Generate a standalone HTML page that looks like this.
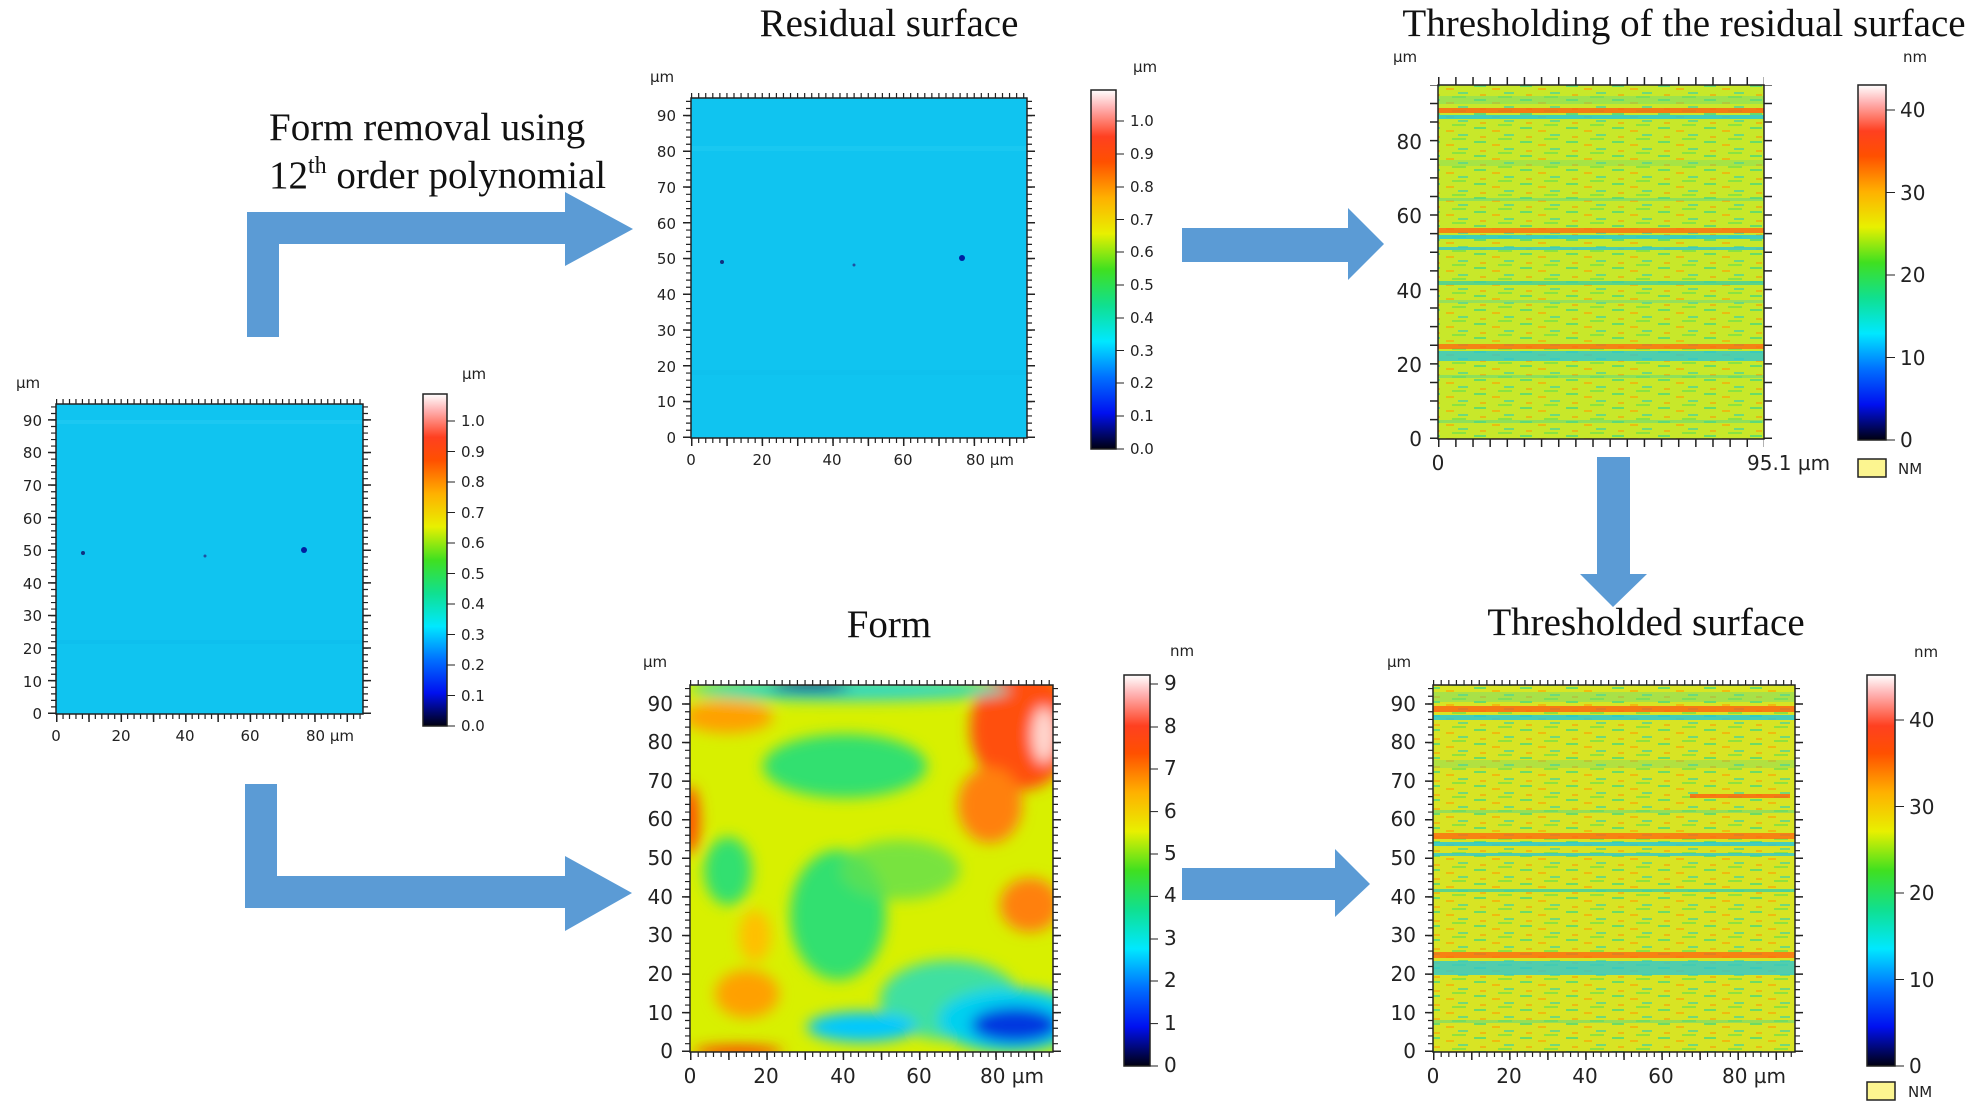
<!DOCTYPE html>
<html><head><meta charset="utf-8"><style>
html,body{margin:0;padding:0;background:#fff;}
svg{display:block}
.t{font-family:"DejaVu Sans","Liberation Sans",sans-serif;font-size:15px;fill:#222}
.tb{font-family:"DejaVu Sans","Liberation Sans",sans-serif;font-size:20px;fill:#222}
.ti{font-family:"Liberation Serif",serif;font-size:39px;fill:#111}
</style></head><body>
<svg width="1978" height="1114" viewBox="0 0 1978 1114" xmlns="http://www.w3.org/2000/svg">
<defs>
<linearGradient id="jet" x1="0" y1="1" x2="0" y2="0">
<stop offset="0" stop-color="#000010"/><stop offset="0.1" stop-color="#0010f0"/><stop offset="0.2" stop-color="#0070ff"/>
<stop offset="0.3" stop-color="#00e8ff"/><stop offset="0.4" stop-color="#10e090"/><stop offset="0.5" stop-color="#40e020"/>
<stop offset="0.6" stop-color="#e8f000"/><stop offset="0.7" stop-color="#ffb000"/><stop offset="0.8" stop-color="#ff5000"/>
<stop offset="0.87" stop-color="#ff4020"/><stop offset="0.95" stop-color="#ffb0b0"/><stop offset="1" stop-color="#ffffff"/>
</linearGradient>
<pattern id="noise" width="46" height="14" patternUnits="userSpaceOnUse">
<rect x="2" y="1" width="12" height="2" fill="#40d880" opacity="0.7"/>
<rect x="20" y="4" width="8" height="2" fill="#ffa000" opacity="0.6"/>
<rect x="32" y="8" width="10" height="2" fill="#30d0b0" opacity="0.6"/>
<rect x="8" y="10" width="6" height="2" fill="#ff9000" opacity="0.5"/>
<rect x="26" y="12" width="14" height="2" fill="#60e050" opacity="0.6"/>
</pattern>
<clipPath id="c4"><rect x="690" y="685" width="363" height="367"/></clipPath>
<filter id="bl" x="-20%" y="-20%" width="140%" height="140%"><feGaussianBlur stdDeviation="7"/></filter>
</defs>

<!-- arrows -->
<g fill="#5b9bd5">
<polygon points="247,337 247,212 565,212 565,192 633,229 565,266 565,244 279,244 279,337"/>
<polygon points="245,784 277,784 277,876 565,876 565,856 632,893 565,931 565,908 245,908"/>
<polygon points="1182,228 1348,228 1348,208 1384,244 1348,280 1348,262 1182,262"/>
<polygon points="1182,868 1335,868 1335,849 1370,884 1335,917 1335,900 1182,900"/>
<polygon points="1597,457 1630,457 1630,574 1647,574 1613,607 1580,574 1597,574"/>
</g>

<!-- titles -->
<text class="ti" x="269" y="140">Form removal using</text>
<text class="ti" x="269" y="188">12<tspan font-size="24" dy="-15">th</tspan><tspan dy="15"> order polynomial</tspan></text>
<text class="ti" x="889" y="36" text-anchor="middle">Residual surface</text>
<text class="ti" x="1684" y="36" text-anchor="middle">Thresholding of the residual surface</text>
<text class="ti" x="889" y="637" text-anchor="middle">Form</text>
<text class="ti" x="1646" y="635" text-anchor="middle">Thresholded surface</text>

<!-- ===== P1 left ===== -->
<rect x="56" y="404" width="307" height="310" fill="#10c4f0"/>
<rect x="56" y="420" width="307" height="4" fill="#30d0f4" opacity="0.4"/>
<rect x="56" y="640" width="307" height="4" fill="#0cb8ec" opacity="0.4"/>
<circle cx="83" cy="553" r="2" fill="#103080"/><circle cx="304" cy="550" r="3" fill="#0020a0"/><circle cx="205" cy="556" r="1.5" fill="#2050a0"/>
<g stroke="#222" fill="none">
<rect x="56" y="404" width="307" height="310" stroke-width="1.5"/>
<line x1="56" y1="716.5" x2="363" y2="716.5" stroke-width="5" stroke-dasharray="1.2 5.256"/>
<line x1="56" y1="401.5" x2="363" y2="401.5" stroke-width="5" stroke-dasharray="1.2 5.256"/>
<line x1="56" y1="718" x2="363" y2="718" stroke-width="8" stroke-dasharray="1.5 30.78"/>
<line x1="53.5" y1="714" x2="53.5" y2="404" stroke-width="5" stroke-dasharray="1.2 5.32"/>
<line x1="365.5" y1="714" x2="365.5" y2="404" stroke-width="5" stroke-dasharray="1.2 5.32"/>
<line x1="52" y1="714" x2="52" y2="404" stroke-width="8" stroke-dasharray="1.5 31.1"/>
<line x1="367" y1="714" x2="367" y2="404" stroke-width="8" stroke-dasharray="1.5 31.1"/>
</g>
<g class="t" text-anchor="end">
<text x="42" y="719">0</text><text x="42" y="687">10</text><text x="42" y="654">20</text><text x="42" y="621">30</text><text x="42" y="589">40</text>
<text x="42" y="556">50</text><text x="42" y="524">60</text><text x="42" y="491">70</text><text x="42" y="458">80</text><text x="42" y="426">90</text>
</g>
<g class="t" text-anchor="middle">
<text x="56" y="741">0</text><text x="121" y="741">20</text><text x="185" y="741">40</text><text x="250" y="741">60</text><text x="330" y="741">80 µm</text>
</g>
<text class="t" x="16" y="388" font-size="13">µm</text>
<rect x="423" y="394" width="24" height="332" fill="url(#jet)" stroke="#222" stroke-width="1.5"/>
<text class="t" x="462" y="379" font-size="13">µm</text>
<g stroke="#222"><line x1="447" y1="726" x2="447" y2="394"/>
<line x1="447" y1="726" x2="455" y2="726" /><line x1="447" y1="695.5" x2="455" y2="695.5"/><line x1="447" y1="665" x2="455" y2="665"/><line x1="447" y1="634.5" x2="455" y2="634.5"/><line x1="447" y1="604" x2="455" y2="604"/><line x1="447" y1="573.5" x2="455" y2="573.5"/><line x1="447" y1="543" x2="455" y2="543"/><line x1="447" y1="512.5" x2="455" y2="512.5"/><line x1="447" y1="482" x2="455" y2="482"/><line x1="447" y1="451.5" x2="455" y2="451.5"/><line x1="447" y1="421" x2="455" y2="421"/></g>
<g class="t"><text x="461" y="731">0.0</text><text x="461" y="701">0.1</text><text x="461" y="670">0.2</text><text x="461" y="640">0.3</text><text x="461" y="609">0.4</text><text x="461" y="579">0.5</text><text x="461" y="548">0.6</text><text x="461" y="518">0.7</text><text x="461" y="487">0.8</text><text x="461" y="457">0.9</text><text x="461" y="426">1.0</text></g>

<!-- ===== P2 residual ===== -->
<rect x="691" y="98" width="336" height="340" fill="#10c4f0"/>
<rect x="691" y="146" width="336" height="5" fill="#30d0f4" opacity="0.3"/>
<rect x="691" y="370" width="336" height="5" fill="#0cb8ec" opacity="0.3"/>
<circle cx="722" cy="262" r="2" fill="#103080"/><circle cx="962" cy="258" r="3" fill="#0020a0"/><circle cx="854" cy="265" r="1.5" fill="#2050a0"/>
<g stroke="#222" fill="none">
<rect x="691" y="98" width="336" height="340" stroke-width="1.5"/>
<line x1="691" y1="440.5" x2="1027" y2="440.5" stroke-width="5" stroke-dasharray="1.2 5.866"/>
<line x1="691" y1="95.5" x2="1027" y2="95.5" stroke-width="5" stroke-dasharray="1.2 5.866"/>
<line x1="691" y1="442" x2="1027" y2="442" stroke-width="8" stroke-dasharray="1.5 33.83"/>
<line x1="688.5" y1="438" x2="688.5" y2="98" stroke-width="5" stroke-dasharray="1.2 5.95"/>
<line x1="1029.5" y1="438" x2="1029.5" y2="98" stroke-width="5" stroke-dasharray="1.2 5.95"/>
<line x1="687" y1="438" x2="687" y2="98" stroke-width="8" stroke-dasharray="1.5 34.25"/>
<line x1="1031" y1="438" x2="1031" y2="98" stroke-width="8" stroke-dasharray="1.5 34.25"/>
</g>
<g class="t" text-anchor="end">
<text x="676" y="443">0</text><text x="676" y="407">10</text><text x="676" y="372">20</text><text x="676" y="336">30</text><text x="676" y="300">40</text>
<text x="676" y="264">50</text><text x="676" y="229">60</text><text x="676" y="193">70</text><text x="676" y="157">80</text><text x="676" y="121">90</text>
</g>
<g class="t" text-anchor="middle">
<text x="691" y="465">0</text><text x="762" y="465">20</text><text x="832" y="465">40</text><text x="903" y="465">60</text><text x="990" y="465">80 µm</text>
</g>
<text class="t" x="650" y="82" font-size="13">µm</text>
<rect x="1091" y="90" width="25" height="359" fill="url(#jet)" stroke="#222" stroke-width="1.5"/>
<text class="t" x="1133" y="72" font-size="13">µm</text>
<g stroke="#222"><line x1="1116" y1="449" x2="1124" y2="449"/><line x1="1116" y1="416" x2="1124" y2="416"/><line x1="1116" y1="383" x2="1124" y2="383"/><line x1="1116" y1="350.5" x2="1124" y2="350.5"/><line x1="1116" y1="318" x2="1124" y2="318"/><line x1="1116" y1="285" x2="1124" y2="285"/><line x1="1116" y1="252" x2="1124" y2="252"/><line x1="1116" y1="219.5" x2="1124" y2="219.5"/><line x1="1116" y1="187" x2="1124" y2="187"/><line x1="1116" y1="154" x2="1124" y2="154"/><line x1="1116" y1="121" x2="1124" y2="121"/></g>
<g class="t"><text x="1130" y="454">0.0</text><text x="1130" y="421">0.1</text><text x="1130" y="388">0.2</text><text x="1130" y="356">0.3</text><text x="1130" y="323">0.4</text><text x="1130" y="290">0.5</text><text x="1130" y="257">0.6</text><text x="1130" y="225">0.7</text><text x="1130" y="192">0.8</text><text x="1130" y="159">0.9</text><text x="1130" y="126">1.0</text></g>

<!-- ===== P3 thresholding residual ===== -->
<rect x="1438" y="85" width="326" height="354" fill="#c8e82a"/>
<rect x="1438" y="85" width="326" height="354" fill="url(#noise)"/>
<g opacity="0.8">
<rect x="1438" y="96" width="326" height="8" fill="#60dc80" opacity="0.5"/>
<rect x="1438" y="108" width="326" height="5" fill="#ff6010"/>
<rect x="1438" y="115" width="326" height="4" fill="#20c8e0"/>
<rect x="1438" y="160" width="326" height="6" fill="#60dc80" opacity="0.4"/>
<rect x="1438" y="198" width="326" height="3" fill="#50d890" opacity="0.6"/>
<rect x="1438" y="228" width="326" height="5" fill="#ff6a10"/>
<rect x="1438" y="235" width="326" height="4" fill="#20c8e0"/>
<rect x="1438" y="247" width="326" height="3" fill="#30c8d0"/>
<rect x="1438" y="281" width="326" height="4" fill="#40d0a0"/>
<rect x="1438" y="300" width="326" height="3" fill="#60d890" opacity="0.6"/>
<rect x="1438" y="344" width="326" height="5" fill="#ff6a10"/>
<rect x="1438" y="351" width="326" height="10" fill="#30c8d0"/>
<rect x="1438" y="375" width="326" height="3" fill="#50d890" opacity="0.6"/>
<rect x="1438" y="420" width="326" height="3" fill="#50d890" opacity="0.6"/>
</g>
<g stroke="#222" fill="none">
<rect x="1438" y="85" width="326" height="354" stroke-width="1.5"/>
<line x1="1438" y1="443" x2="1764" y2="443" stroke-width="8" stroke-dasharray="1.5 15.64"/>
<line x1="1438" y1="81" x2="1764" y2="81" stroke-width="8" stroke-dasharray="1.5 15.64"/>
<line x1="1434" y1="439" x2="1434" y2="85" stroke-width="8" stroke-dasharray="1.5 17.1"/>
<line x1="1768" y1="439" x2="1768" y2="85" stroke-width="8" stroke-dasharray="1.5 17.1"/>
</g>
<g class="tb" text-anchor="end">
<text x="1422" y="446">0</text><text x="1422" y="372">20</text><text x="1422" y="298">40</text><text x="1422" y="223">60</text><text x="1422" y="149">80</text>
</g>
<text class="tb" x="1438" y="470" text-anchor="middle">0</text>
<text class="tb" x="1747" y="470">95.1 µm</text>
<text class="t" x="1393" y="62">µm</text>
<rect x="1858" y="85" width="28" height="355" fill="url(#jet)" stroke="#222" stroke-width="1.5"/>
<text class="t" x="1903" y="62">nm</text>
<g stroke="#222"><line x1="1886" y1="440" x2="1895" y2="440"/><line x1="1886" y1="357.5" x2="1895" y2="357.5"/><line x1="1886" y1="275" x2="1895" y2="275"/><line x1="1886" y1="192.5" x2="1895" y2="192.5"/><line x1="1886" y1="110" x2="1895" y2="110"/></g>
<g class="tb"><text x="1900" y="447">0</text><text x="1900" y="365">10</text><text x="1900" y="282">20</text><text x="1900" y="200">30</text><text x="1900" y="117">40</text></g>
<rect x="1858" y="459" width="28" height="18" fill="#fcf590" stroke="#222" stroke-width="1.5"/>
<text class="t" x="1898" y="474" font-size="13">NM</text>

<!-- ===== P4 form ===== -->
<rect x="690" y="685" width="363" height="367" fill="#d8f000"/>
<g clip-path="url(#c4)"><g filter="url(#bl)">
<ellipse cx="845" cy="766" rx="82" ry="32" fill="#30e070"/>
<ellipse cx="728" cy="871" rx="24" ry="34" fill="#30e070"/>
<ellipse cx="838" cy="915" rx="48" ry="65" fill="#30e070"/>
<ellipse cx="900" cy="870" rx="60" ry="30" fill="#60e050" opacity="0.8"/>
<ellipse cx="950" cy="1000" rx="70" ry="40" fill="#40e0a0"/>
<ellipse cx="1022" cy="728" rx="52" ry="62" fill="#ff5010"/>
<ellipse cx="1044" cy="735" rx="12" ry="28" fill="#ffd8d0"/>
<ellipse cx="990" cy="805" rx="32" ry="38" fill="#ff8010"/>
<ellipse cx="1030" cy="905" rx="30" ry="27" fill="#ff8010"/>
<ellipse cx="747" cy="994" rx="32" ry="24" fill="#ffa000"/>
<ellipse cx="755" cy="936" rx="16" ry="26" fill="#ffc000"/>
<ellipse cx="728" cy="717" rx="45" ry="16" fill="#ffa000"/>
<ellipse cx="690" cy="820" rx="10" ry="34" fill="#ff5000"/>
<ellipse cx="1010" cy="1020" rx="72" ry="32" fill="#00d0f0"/>
<ellipse cx="1015" cy="1025" rx="44" ry="18" fill="#0038e0"/>
<ellipse cx="862" cy="1027" rx="55" ry="15" fill="#00c8ff"/>
<ellipse cx="850" cy="690" rx="160" ry="11" fill="#30d8c0"/>
<ellipse cx="810" cy="686" rx="40" ry="6" fill="#0020a0"/>
<ellipse cx="738" cy="1052" rx="45" ry="6" fill="#ff3000"/>
</g></g>
<g stroke="#222" fill="none">
<rect x="690" y="685" width="363" height="367" stroke-width="1.5"/>
<line x1="690" y1="1054.5" x2="1053" y2="1054.5" stroke-width="5" stroke-dasharray="1.2 6.43"/>
<line x1="690" y1="682.5" x2="1053" y2="682.5" stroke-width="5" stroke-dasharray="1.2 6.43"/>
<line x1="690" y1="1056" x2="1053" y2="1056" stroke-width="8" stroke-dasharray="1.5 36.67"/>
<line x1="687.5" y1="1052" x2="687.5" y2="685" stroke-width="5" stroke-dasharray="1.2 6.52"/>
<line x1="1055.5" y1="1052" x2="1055.5" y2="685" stroke-width="5" stroke-dasharray="1.2 6.52"/>
<line x1="686" y1="1052" x2="686" y2="685" stroke-width="8" stroke-dasharray="1.5 37.09"/>
<line x1="1057" y1="1052" x2="1057" y2="685" stroke-width="8" stroke-dasharray="1.5 37.09"/>
</g>
<g class="tb" text-anchor="end" font-size="18">
<text x="673" y="1058">0</text><text x="673" y="1020">10</text><text x="673" y="981">20</text><text x="673" y="942">30</text><text x="673" y="904">40</text>
<text x="673" y="865">50</text><text x="673" y="826">60</text><text x="673" y="788">70</text><text x="673" y="749">80</text><text x="673" y="711">90</text>
</g>
<g class="tb" text-anchor="middle" font-size="18">
<text x="690" y="1083">0</text><text x="766" y="1083">20</text><text x="843" y="1083">40</text><text x="919" y="1083">60</text><text x="1012" y="1083">80 µm</text>
</g>
<text class="t" x="643" y="667">µm</text>
<rect x="1124" y="675" width="26" height="391" fill="url(#jet)" stroke="#222" stroke-width="1.5"/>
<text class="t" x="1170" y="656">nm</text>
<g stroke="#222"><line x1="1150" y1="1066" x2="1158" y2="1066"/><line x1="1150" y1="1023.6" x2="1158" y2="1023.6"/><line x1="1150" y1="981" x2="1158" y2="981"/><line x1="1150" y1="939" x2="1158" y2="939"/><line x1="1150" y1="896.4" x2="1158" y2="896.4"/><line x1="1150" y1="854" x2="1158" y2="854"/><line x1="1150" y1="811.6" x2="1158" y2="811.6"/><line x1="1150" y1="769" x2="1158" y2="769"/><line x1="1150" y1="727" x2="1158" y2="727"/><line x1="1150" y1="684" x2="1158" y2="684"/></g>
<g class="tb" font-size="18"><text x="1164" y="1072">0</text><text x="1164" y="1030">1</text><text x="1164" y="987">2</text><text x="1164" y="945">3</text><text x="1164" y="902">4</text><text x="1164" y="860">5</text><text x="1164" y="818">6</text><text x="1164" y="775">7</text><text x="1164" y="733">8</text><text x="1164" y="690">9</text></g>

<!-- ===== P5 thresholded ===== -->
<rect x="1433" y="685" width="362" height="367" fill="#d8e424"/>
<rect x="1433" y="685" width="362" height="367" fill="url(#noise)"/>
<g opacity="0.8">
<rect x="1433" y="692" width="362" height="10" fill="#60dc80" opacity="0.5"/>
<rect x="1433" y="706" width="362" height="6" fill="#ff6010"/>
<rect x="1433" y="715" width="362" height="5" fill="#20c8e0"/>
<rect x="1433" y="760" width="362" height="8" fill="#60dc80" opacity="0.4"/>
<rect x="1433" y="810" width="362" height="3" fill="#50d890" opacity="0.6"/>
<rect x="1433" y="833" width="362" height="6" fill="#ff6a10"/>
<rect x="1433" y="842" width="362" height="4" fill="#20c8e0"/>
<rect x="1433" y="853" width="362" height="3" fill="#30c8d0"/>
<rect x="1433" y="889" width="362" height="3" fill="#40d0a0"/>
<rect x="1433" y="952" width="362" height="6" fill="#ff6a10"/>
<rect x="1433" y="961" width="362" height="14" fill="#30c8d0"/>
<rect x="1433" y="1020" width="362" height="3" fill="#50d890" opacity="0.6"/>
<rect x="1690" y="794" width="100" height="4" fill="#ff6010"/>
</g>
<g stroke="#222" fill="none">
<rect x="1433" y="685" width="362" height="367" stroke-width="1.5"/>
<line x1="1433" y1="1054.5" x2="1795" y2="1054.5" stroke-width="5" stroke-dasharray="1.2 6.41"/>
<line x1="1433" y1="682.5" x2="1795" y2="682.5" stroke-width="5" stroke-dasharray="1.2 6.41"/>
<line x1="1433" y1="1056" x2="1795" y2="1056" stroke-width="8" stroke-dasharray="1.5 36.56"/>
<line x1="1430.5" y1="1052" x2="1430.5" y2="685" stroke-width="5" stroke-dasharray="1.2 6.52"/>
<line x1="1797.5" y1="1052" x2="1797.5" y2="685" stroke-width="5" stroke-dasharray="1.2 6.52"/>
<line x1="1429" y1="1052" x2="1429" y2="685" stroke-width="8" stroke-dasharray="1.5 37.09"/>
<line x1="1799" y1="1052" x2="1799" y2="685" stroke-width="8" stroke-dasharray="1.5 37.09"/>
</g>
<g class="tb" text-anchor="end" font-size="18">
<text x="1416" y="1058">0</text><text x="1416" y="1020">10</text><text x="1416" y="981">20</text><text x="1416" y="942">30</text><text x="1416" y="904">40</text>
<text x="1416" y="865">50</text><text x="1416" y="826">60</text><text x="1416" y="788">70</text><text x="1416" y="749">80</text><text x="1416" y="711">90</text>
</g>
<g class="tb" text-anchor="middle" font-size="18">
<text x="1433" y="1083">0</text><text x="1509" y="1083">20</text><text x="1585" y="1083">40</text><text x="1661" y="1083">60</text><text x="1754" y="1083">80 µm</text>
</g>
<text class="t" x="1387" y="667">µm</text>
<rect x="1867" y="675" width="28" height="391" fill="url(#jet)" stroke="#222" stroke-width="1.5"/>
<text class="t" x="1914" y="657">nm</text>
<g stroke="#222"><line x1="1895" y1="1066" x2="1904" y2="1066"/><line x1="1895" y1="979.5" x2="1904" y2="979.5"/><line x1="1895" y1="893" x2="1904" y2="893"/><line x1="1895" y1="806.5" x2="1904" y2="806.5"/><line x1="1895" y1="720" x2="1904" y2="720"/></g>
<g class="tb"><text x="1909" y="1073">0</text><text x="1909" y="987">10</text><text x="1909" y="900">20</text><text x="1909" y="814">30</text><text x="1909" y="727">40</text></g>
<rect x="1867" y="1082" width="28" height="18" fill="#fcf590" stroke="#222" stroke-width="1.5"/>
<text class="t" x="1908" y="1097" font-size="13">NM</text>
</svg>
</body></html>
